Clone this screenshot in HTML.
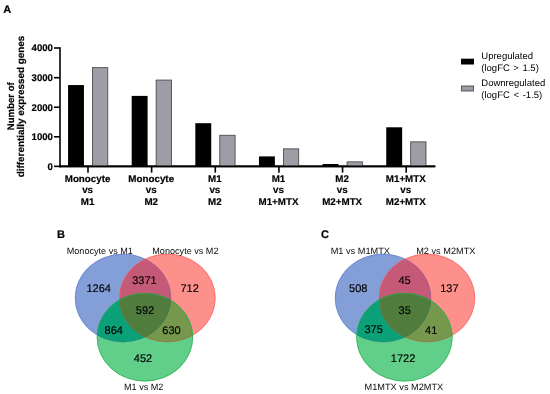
<!DOCTYPE html>
<html><head><meta charset="utf-8"><title>Figure</title>
<style>
html,body{margin:0;padding:0;background:#fff;}
svg{display:block;font-family:"Liberation Sans",Arial,sans-serif;text-rendering:geometricPrecision;}
.b{font-weight:bold;stroke:#000;stroke-width:0.18px;}
</style></head><body>
<svg width="550" height="394" viewBox="0 0 550 394">
<rect width="550" height="394" fill="#fff"/>

<text class="b" x="3.3" y="13.3" font-size="11">A</text>
<text class="b" x="56.9" y="238.3" font-size="11">B</text>
<text class="b" x="320.9" y="238.3" font-size="11">C</text>
<text class="b" font-size="9.6" text-anchor="middle" transform="translate(14.2,106.2) rotate(-90)">Number of</text>
<text class="b" font-size="9.9" text-anchor="middle" transform="translate(23.9,106.5) rotate(-90)">differentially expressed genes</text>
<g stroke="#000" stroke-width="1.6" fill="none">
<line x1="60" y1="47.2" x2="60" y2="167.15"/>
<line x1="59.2" y1="166.35" x2="435.3" y2="166.35"/>
<line x1="54" y1="166.35" x2="60" y2="166.35"/>
<line x1="54" y1="136.80" x2="60" y2="136.80"/>
<line x1="54" y1="107.25" x2="60" y2="107.25"/>
<line x1="54" y1="77.70" x2="60" y2="77.70"/>
<line x1="54" y1="48.00" x2="60" y2="48.00"/>
<line x1="88.00" y1="166.35" x2="88.00" y2="172.65"/>
<line x1="151.64" y1="166.35" x2="151.64" y2="172.65"/>
<line x1="215.28" y1="166.35" x2="215.28" y2="172.65"/>
<line x1="278.92" y1="166.35" x2="278.92" y2="172.65"/>
<line x1="342.56" y1="166.35" x2="342.56" y2="172.65"/>
<line x1="406.20" y1="166.35" x2="406.20" y2="172.65"/>
</g>
<text class="b" font-size="9.6" text-anchor="end" x="52.9" y="169.80">0</text>
<text class="b" font-size="9.6" text-anchor="end" x="52.9" y="140.25">1000</text>
<text class="b" font-size="9.6" text-anchor="end" x="52.9" y="110.70">2000</text>
<text class="b" font-size="9.6" text-anchor="end" x="52.9" y="81.15">3000</text>
<text class="b" font-size="9.6" text-anchor="end" x="52.9" y="51.45">4000</text>
<rect x="68.05" y="85.06" width="15.9" height="81.29" fill="#000"/>
<rect x="92.50" y="67.65" width="15.3" height="98.70" fill="#a09ca5" stroke="#3e3e42" stroke-width="0.8"/>
<rect x="131.69" y="95.90" width="15.9" height="70.45" fill="#000"/>
<rect x="156.14" y="80.05" width="15.3" height="86.30" fill="#a09ca5" stroke="#3e3e42" stroke-width="0.8"/>
<rect x="195.33" y="123.20" width="15.9" height="43.15" fill="#000"/>
<rect x="219.78" y="135.25" width="15.3" height="31.10" fill="#a09ca5" stroke="#3e3e42" stroke-width="0.8"/>
<rect x="258.97" y="156.40" width="15.9" height="9.95" fill="#000"/>
<rect x="283.42" y="148.85" width="15.3" height="17.50" fill="#a09ca5" stroke="#3e3e42" stroke-width="0.8"/>
<rect x="322.61" y="164.00" width="15.9" height="2.35" fill="#000"/>
<rect x="347.06" y="161.85" width="15.3" height="4.50" fill="#a09ca5" stroke="#3e3e42" stroke-width="0.8"/>
<rect x="386.25" y="127.30" width="15.9" height="39.05" fill="#000"/>
<rect x="410.70" y="141.85" width="15.3" height="24.50" fill="#a09ca5" stroke="#3e3e42" stroke-width="0.8"/>
<line x1="59.2" y1="166.35" x2="435.3" y2="166.35" stroke="#000" stroke-width="1.6"/>
<text class="b" font-size="9.8" text-anchor="middle" x="87.60" y="182.00">Monocyte</text>
<text class="b" font-size="9.8" text-anchor="middle" x="87.60" y="193.40">vs</text>
<text class="b" font-size="9.8" text-anchor="middle" x="87.60" y="204.80">M1</text>
<text class="b" font-size="9.8" text-anchor="middle" x="151.24" y="182.00">Monocyte</text>
<text class="b" font-size="9.8" text-anchor="middle" x="151.24" y="193.40">vs</text>
<text class="b" font-size="9.8" text-anchor="middle" x="151.24" y="204.80">M2</text>
<text class="b" font-size="9.8" text-anchor="middle" x="214.88" y="182.00">M1</text>
<text class="b" font-size="9.8" text-anchor="middle" x="214.88" y="193.40">vs</text>
<text class="b" font-size="9.8" text-anchor="middle" x="214.88" y="204.80">M2</text>
<text class="b" font-size="9.8" text-anchor="middle" x="278.52" y="182.00">M1</text>
<text class="b" font-size="9.8" text-anchor="middle" x="278.52" y="193.40">vs</text>
<text class="b" font-size="9.8" text-anchor="middle" x="278.52" y="204.80">M1+MTX</text>
<text class="b" font-size="9.8" text-anchor="middle" x="342.16" y="182.00">M2</text>
<text class="b" font-size="9.8" text-anchor="middle" x="342.16" y="193.40">vs</text>
<text class="b" font-size="9.8" text-anchor="middle" x="342.16" y="204.80">M2+MTX</text>
<text class="b" font-size="9.8" text-anchor="middle" x="405.80" y="182.00">M1+MTX</text>
<text class="b" font-size="9.8" text-anchor="middle" x="405.80" y="193.40">vs</text>
<text class="b" font-size="9.8" text-anchor="middle" x="405.80" y="204.80">M2+MTX</text>
<rect x="461" y="58.7" width="13" height="5.8" fill="#000"/>
<rect x="461.4" y="86" width="12.2" height="5" fill="#a09ca5" stroke="#3e3e42" stroke-width="0.8"/>
<g font-size="9.5" fill="#000">
<text x="481.3" y="59.2">Upregulated</text>
<text x="481.3" y="70.7" word-spacing="0.9">(logFC &gt; 1.5)</text>
<text x="481.3" y="86">Downregulated</text>
<text x="481.3" y="97.5" word-spacing="1">(logFC &lt; -1.5)</text>
</g>
<defs><clipPath id="v0b"><ellipse cx="123.0" cy="298.0" rx="48.1" ry="44.2"/></clipPath><clipPath id="v0r"><ellipse cx="167.4" cy="298.0" rx="48.1" ry="44.2"/></clipPath><clipPath id="v0g"><ellipse cx="144.9" cy="337.2" rx="48.1" ry="44.2"/></clipPath></defs>
<ellipse cx="123.0" cy="298.0" rx="48.1" ry="44.2" fill="#849ed8"/>
<ellipse cx="167.4" cy="298.0" rx="48.1" ry="44.2" fill="#fe908c"/>
<ellipse cx="144.9" cy="337.2" rx="48.1" ry="44.2" fill="#61cf89"/>
<ellipse cx="123.0" cy="298.0" rx="47.75" ry="43.85" fill="none" stroke="#5b7bd0" stroke-opacity="0.8" stroke-width="0.7"/>
<g clip-path="url(#v0b)"><ellipse cx="167.4" cy="298.0" rx="48.1" ry="44.2" fill="#c55a78"/></g>
<ellipse cx="123.0" cy="298.0" rx="47.75" ry="43.85" fill="none" stroke="#7a5bb0" stroke-opacity="0.35" stroke-width="0.7" clip-path="url(#v0r)"/>
<ellipse cx="167.4" cy="298.0" rx="47.75" ry="43.85" fill="none" stroke="#f8585a" stroke-opacity="0.8" stroke-width="0.7"/>
<g clip-path="url(#v0b)"><ellipse cx="144.9" cy="337.2" rx="48.1" ry="44.2" fill="#0ca078"/></g>
<g clip-path="url(#v0r)"><ellipse cx="144.9" cy="337.2" rx="48.1" ry="44.2" fill="#76984c"/></g>
<g clip-path="url(#v0b)"><g clip-path="url(#v0r)"><ellipse cx="144.9" cy="337.2" rx="48.1" ry="44.2" fill="#507c3e"/></g></g>
<g clip-path="url(#v0g)"><ellipse cx="167.4" cy="298.0" rx="47.75" ry="43.85" fill="none" stroke="#a0603c" stroke-opacity="0.5" stroke-width="0.7"/><ellipse cx="123.0" cy="298.0" rx="47.75" ry="43.85" fill="none" stroke="#2a7a70" stroke-opacity="0.3" stroke-width="0.7"/></g>
<ellipse cx="144.9" cy="337.2" rx="47.75" ry="43.85" fill="none" stroke="#28aa46" stroke-opacity="0.9" stroke-width="0.7"/>
<g font-size="9.1" fill="#0d0d0d">
<text x="66.7" y="253.6" text-anchor="start">Monocyte vs M1</text>
<text x="152.3" y="253.6" text-anchor="start">Monocyte vs M2</text>
<text x="143.7" y="390.0" text-anchor="middle">M1 vs M2</text>
</g>
<g font-size="11" fill="#000" stroke="#000" stroke-width="0.15" text-anchor="middle">
<text x="98.7" y="292.4">1264</text>
<text x="144.4" y="284">3371</text>
<text x="189.6" y="291.8">712</text>
<text x="145" y="313.6">592</text>
<text x="113.7" y="333.7">864</text>
<text x="171.5" y="333.9">630</text>
<text x="143" y="362.4">452</text>
</g>
<defs><clipPath id="v260b"><ellipse cx="383.0" cy="298.0" rx="48.1" ry="44.2"/></clipPath><clipPath id="v260r"><ellipse cx="427.0" cy="298.0" rx="48.1" ry="44.2"/></clipPath><clipPath id="v260g"><ellipse cx="404.4" cy="337.2" rx="48.1" ry="44.2"/></clipPath></defs>
<ellipse cx="383.0" cy="298.0" rx="48.1" ry="44.2" fill="#849ed8"/>
<ellipse cx="427.0" cy="298.0" rx="48.1" ry="44.2" fill="#fe908c"/>
<ellipse cx="404.4" cy="337.2" rx="48.1" ry="44.2" fill="#61cf89"/>
<ellipse cx="383.0" cy="298.0" rx="47.75" ry="43.85" fill="none" stroke="#5b7bd0" stroke-opacity="0.8" stroke-width="0.7"/>
<g clip-path="url(#v260b)"><ellipse cx="427.0" cy="298.0" rx="48.1" ry="44.2" fill="#c55a78"/></g>
<ellipse cx="383.0" cy="298.0" rx="47.75" ry="43.85" fill="none" stroke="#7a5bb0" stroke-opacity="0.35" stroke-width="0.7" clip-path="url(#v260r)"/>
<ellipse cx="427.0" cy="298.0" rx="47.75" ry="43.85" fill="none" stroke="#f8585a" stroke-opacity="0.8" stroke-width="0.7"/>
<g clip-path="url(#v260b)"><ellipse cx="404.4" cy="337.2" rx="48.1" ry="44.2" fill="#0ca078"/></g>
<g clip-path="url(#v260r)"><ellipse cx="404.4" cy="337.2" rx="48.1" ry="44.2" fill="#76984c"/></g>
<g clip-path="url(#v260b)"><g clip-path="url(#v260r)"><ellipse cx="404.4" cy="337.2" rx="48.1" ry="44.2" fill="#507c3e"/></g></g>
<g clip-path="url(#v260g)"><ellipse cx="427.0" cy="298.0" rx="47.75" ry="43.85" fill="none" stroke="#a0603c" stroke-opacity="0.5" stroke-width="0.7"/><ellipse cx="383.0" cy="298.0" rx="47.75" ry="43.85" fill="none" stroke="#2a7a70" stroke-opacity="0.3" stroke-width="0.7"/></g>
<ellipse cx="404.4" cy="337.2" rx="47.75" ry="43.85" fill="none" stroke="#28aa46" stroke-opacity="0.9" stroke-width="0.7"/>
<g font-size="9.2" fill="#0d0d0d">
<text x="330.7" y="253.5" text-anchor="start">M1 vs M1MTX</text>
<text x="416.2" y="253.5" text-anchor="start">M2 vs M2MTX</text>
<text x="403.9" y="390.0" text-anchor="middle">M1MTX vs M2MTX</text>
</g>
<g font-size="11" fill="#000" stroke="#000" stroke-width="0.15" text-anchor="middle">
<text x="358.2" y="292.4">508</text>
<text x="404.6" y="284">45</text>
<text x="449.4" y="292.4">137</text>
<text x="404.7" y="313.5">35</text>
<text x="373.6" y="333.4">375</text>
<text x="431.2" y="333.6">41</text>
<text x="403.1" y="362.2">1722</text>
</g>
</svg></body></html>
